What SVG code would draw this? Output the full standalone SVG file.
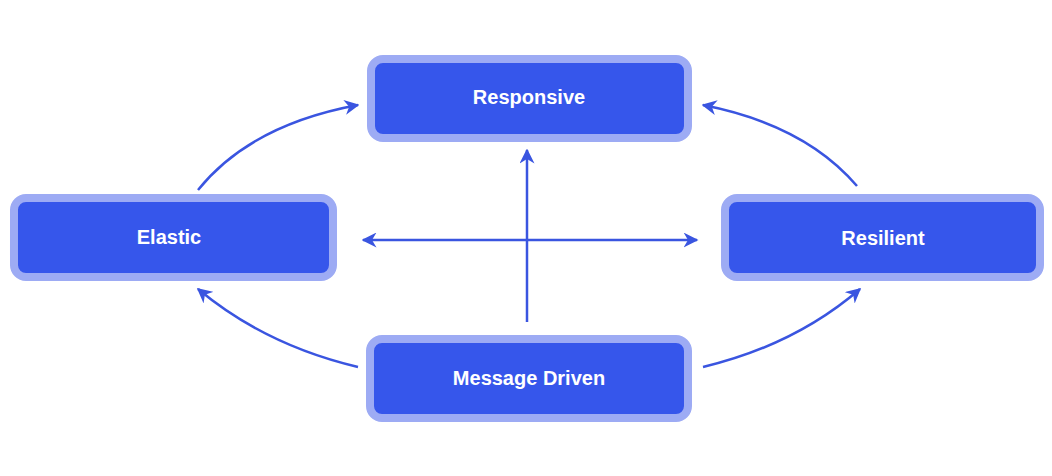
<svg xmlns="http://www.w3.org/2000/svg" width="1052" height="476" viewBox="0 0 1052 476">
<style>
.box{fill:#3656EB;stroke:#9DABF4;stroke-width:8}
.lbl{font-family:"Liberation Sans",Arial,sans-serif;font-size:20px;font-weight:bold;fill:#fff;text-anchor:middle;dominant-baseline:central}
.c{fill:none;stroke:#3A55E0;stroke-width:2.5}
</style>
<defs><marker id="a" viewBox="0 0 10 10" refX="9" refY="5" markerWidth="6" markerHeight="6" orient="auto-start-reverse"><path d="M0,0 L10,5 L0,10 L3,5 Z" fill="#3A55E0"/></marker></defs>
<rect width="1052" height="476" fill="#fff"/>
<g id="connectors">
<path class="c" d="M198,190 Q250,125 358,105" marker-end="url(#a)"/>
<path class="c" d="M857,186 Q805,125 703,105" marker-end="url(#a)"/>
<path class="c" d="M358,367 Q265,345 198,289" marker-end="url(#a)"/>
<path class="c" d="M703,367 Q795,345 860,289" marker-end="url(#a)"/>
<path class="c" d="M527,322 L527,150" marker-end="url(#a)"/>
<path class="c" d="M363,240 L697,240" marker-start="url(#a)" marker-end="url(#a)"/>
</g>
<g id="responsive"><rect class="box" x="371" y="59" width="317" height="79" rx="12"/><text class="lbl" x="529" y="97">Responsive</text></g>
<g id="elastic"><rect class="box" x="14" y="198" width="319" height="79" rx="12"/><text class="lbl" x="169" y="237">Elastic</text></g>
<g id="resilient"><rect class="box" x="725" y="198" width="315" height="79" rx="12"/><text class="lbl" x="883" y="238">Resilient</text></g>
<g id="message-driven"><rect class="box" x="370" y="339" width="318" height="79" rx="12"/><text class="lbl" x="529" y="378">Message Driven</text></g>
</svg>
